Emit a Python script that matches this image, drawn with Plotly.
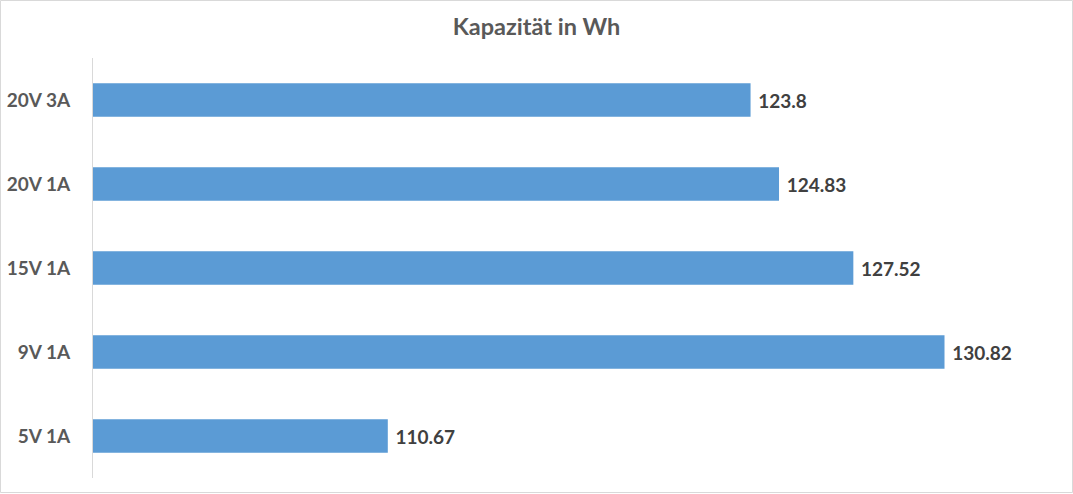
import plotly.graph_objects as go

categories = ["5V 1A", "9V 1A", "15V 1A", "20V 1A", "20V 3A"]
values = [110.67, 130.82, 127.52, 124.83, 123.8]
labels = ["110.67", "130.82", "127.52", "124.83", "123.8"]

fig = go.Figure(go.Bar(
    y=categories, x=values, orientation="h",
    marker=dict(color="#5B9BD5", line=dict(width=0)),
    text=labels, texttemplate="\u00a0%{text}", textposition="outside", cliponaxis=False,
    textfont=dict(family="Lato", size=19, color="#404040", weight="bold"),
))

fig.update_layout(
    width=1073, height=494, autosize=False,
    margin=dict(l=93, r=13, t=58, b=16, autoexpand=False),
    paper_bgcolor="white", plot_bgcolor="white",
    bargap=0.6,
    showlegend=False,
    title=dict(text="<b>Kapazität in Wh</b>", x=0.5, xanchor="center", y=0.945, yanchor="middle",
               font=dict(family="Lato", size=23.5, color="#595959")),
    xaxis=dict(range=[100, 135], showgrid=False, showticklabels=False, zeroline=False,
               showline=False, ticks="", automargin=False),
    yaxis=dict(showline=True, linecolor="#D9D9D9", linewidth=1, ticks="", showgrid=False,
               automargin=False,
               tickfont=dict(family="Lato", size=19, color="#595959", weight="bold"),
               ticklabelstandoff=18),
    shapes=[dict(type="rect", xref="paper", yref="paper", x0=-92.5/967, x1=1+12.5/967,
                 y0=-14.5/420, y1=1+57.5/420, line=dict(color="#D9D9D9", width=1))],
)

fig.write_html("out.html", config={"responsive": False, "displayModeBar": False},
               post_script="document.body.style.margin='0';document.body.style.overflow='hidden';")
